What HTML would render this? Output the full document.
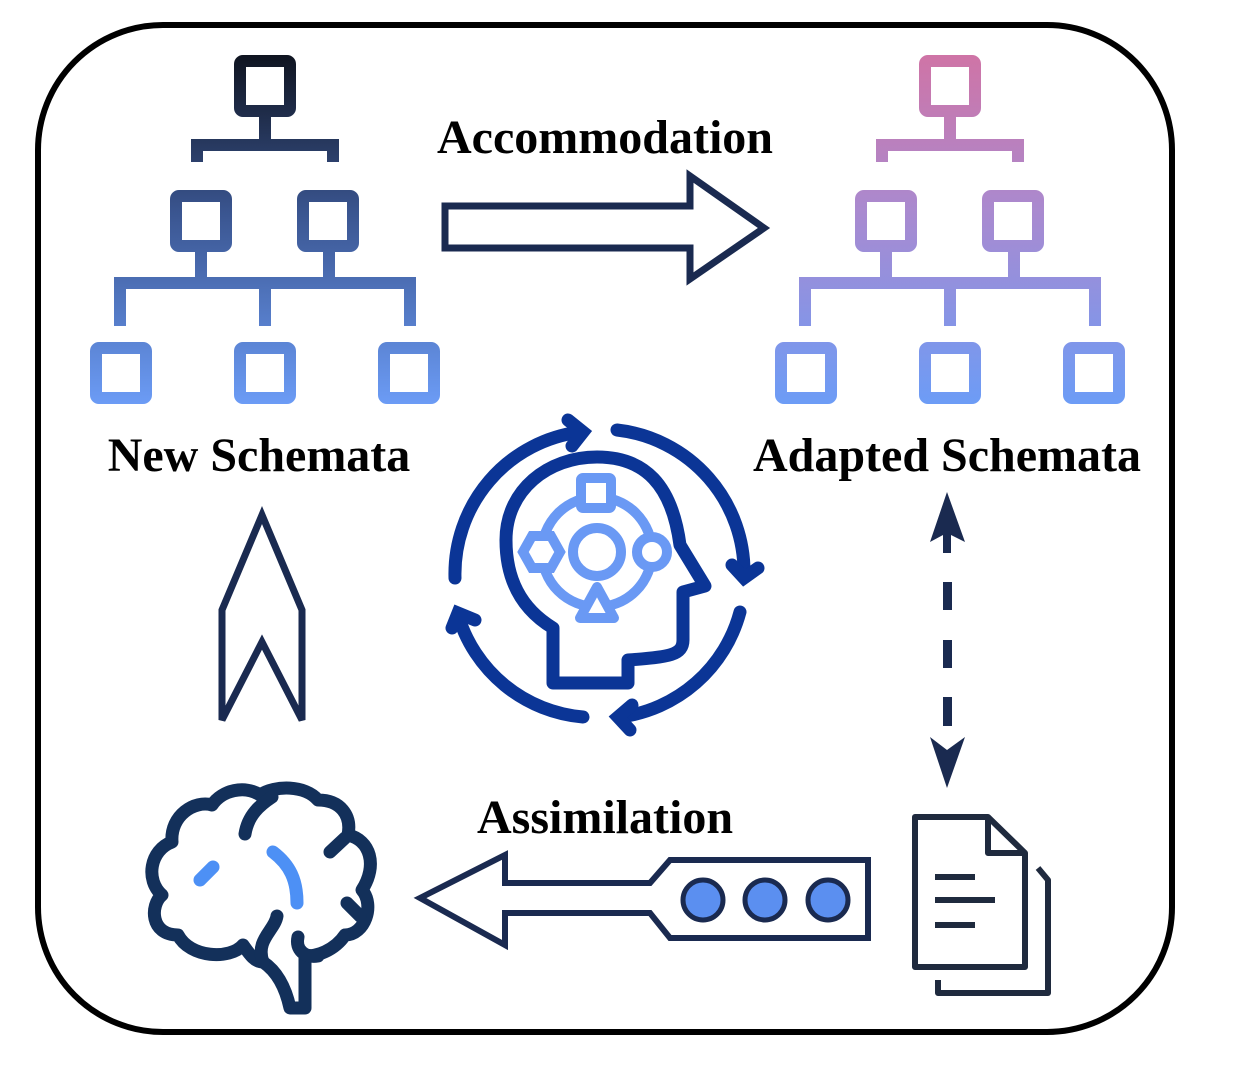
<!DOCTYPE html>
<html><head><meta charset="utf-8"><style>
html,body{margin:0;padding:0;background:#fff}
svg{display:block}
text{font-family:"Liberation Serif",serif;font-weight:bold;fill:#000}
</style></head><body>
<svg width="1240" height="1080" viewBox="0 0 1240 1080">
<defs>
<linearGradient id="gl" x1="0" y1="55" x2="0" y2="405" gradientUnits="userSpaceOnUse">
<stop offset="0" stop-color="#0f1420"/><stop offset="0.45" stop-color="#3a5590"/><stop offset="1" stop-color="#6c9cf6"/></linearGradient>
<linearGradient id="gr" x1="0" y1="55" x2="0" y2="405" gradientUnits="userSpaceOnUse">
<stop offset="0" stop-color="#cf74a6"/><stop offset="0.45" stop-color="#a98ad0"/><stop offset="1" stop-color="#6c9cf6"/></linearGradient>
</defs>
<rect x="38" y="25" width="1134" height="1007" rx="125" fill="none" stroke="#000" stroke-width="6"/>

<g fill="none" stroke="url(#gl)" stroke-width="12">
<rect x="240" y="61" width="50" height="50" rx="3"/>
<path d="M265 117V145M197 162V145H333V162"/>
<rect x="176" y="196" width="50" height="50" rx="3"/>
<rect x="303" y="196" width="50" height="50" rx="3"/>
<path d="M201 252V283M329 252V283M120 326V283H410V326M265 283V326"/>
<rect x="96" y="348" width="50" height="50" rx="3"/>
<rect x="240" y="348" width="50" height="50" rx="3"/>
<rect x="384" y="348" width="50" height="50" rx="3"/>
</g>
<g fill="none" stroke="url(#gr)" stroke-width="12" transform="translate(685,0)">
<rect x="240" y="61" width="50" height="50" rx="3"/>
<path d="M265 117V145M197 162V145H333V162"/>
<rect x="176" y="196" width="50" height="50" rx="3"/>
<rect x="303" y="196" width="50" height="50" rx="3"/>
<path d="M201 252V283M329 252V283M120 326V283H410V326M265 283V326"/>
<rect x="96" y="348" width="50" height="50" rx="3"/>
<rect x="240" y="348" width="50" height="50" rx="3"/>
<rect x="384" y="348" width="50" height="50" rx="3"/>
</g>

<text x="605" y="153" font-size="48" text-anchor="middle">Accommodation</text>
<text x="259" y="471" font-size="48" text-anchor="middle">New Schemata</text>
<text x="947" y="471" font-size="48" text-anchor="middle">Adapted Schemata</text>
<text x="605" y="833" font-size="48" text-anchor="middle">Assimilation</text>

<polygon points="445,206 690,206 690,176 764,228 690,279 690,248 445,248" fill="none" stroke="#1a2a50" stroke-width="7"/>
<polygon points="262,515 302,610 302,720 262,642 222,720 222,610" fill="none" stroke="#1a2a50" stroke-width="7"/>

<g fill="#1a2a50">
<path d="M947 492L965 542L951 535V553H943V535L930 542Z"/>
<rect x="943" y="582" width="9" height="28"/>
<rect x="943" y="640" width="9" height="28"/>
<rect x="943" y="697" width="9" height="29"/>
<path d="M930 737L947 750L965 737L947 788Z"/>
</g>

<g fill="none" stroke="#1a2a50" stroke-width="6">
<path d="M420,898 505,855 505,883 650,883 670,860 868,860 868,938 670,938 650,913 505,913 505,945 Z"/>
<circle cx="703" cy="900" r="20" fill="#5b8ff0" stroke-width="5"/>
<circle cx="765" cy="900" r="20" fill="#5b8ff0" stroke-width="5"/>
<circle cx="828" cy="900" r="20" fill="#5b8ff0" stroke-width="5"/>
</g>

<g fill="none" stroke="#1f2a3e" stroke-width="6" stroke-linejoin="round">
<path d="M915 817H988L1025 853V967H915Z"/>
<path d="M988 817V853H1025"/>
<path d="M1038 868L1048 880V993H938V980"/>
<path d="M935 877H975M935 900H995M935 925H975"/>
</g>

<g fill="none" stroke-linecap="round" stroke-width="13">
<g stroke="#0b3596">
<path d="M455 578A143 143 0 0 1 580 432"/>
<path d="M568 420L583 432L572 446"/>
<path d="M617 430A143 143 0 0 1 744 575"/>
<path d="M732 565L744 578L758 568"/>
<path d="M740 612A143 143 0 0 1 620 717"/>
<path d="M632 705L618 717L630 730"/>
<path d="M583 717A143 143 0 0 1 458 615"/>
<path d="M452 628L458 613L475 620"/>
<path d="M553 683V628C520 608 506 578 506 540C506 490 548 457 597 457C645 457 672 485 680 545L705 586L683 592V640C683 655 670 657 628 660V683Z" stroke-linejoin="round"/>
</g>
<g stroke="#6a99f4" stroke-width="10">
<circle cx="597" cy="552" r="55"/>
<circle cx="597" cy="552" r="24"/>
<rect x="581" y="478" width="30" height="30" rx="2" fill="#fff"/>
<circle cx="652" cy="552" r="15" fill="#fff"/>
<path d="M523 552L532 536H551L560 552L551 568H532Z" fill="#fff"/>
<path d="M597 587L614 618H580Z" fill="#fff" stroke-linejoin="round"/>
</g>
</g>

<g fill="none" stroke="#13305a" stroke-width="13" stroke-linecap="round" stroke-linejoin="round">
<path d="M243 945C230 960 190 958 178 935C150 935 150 905 162 895C145 880 150 850 172 842C170 815 195 800 212 805C222 790 245 785 260 795C275 785 305 785 318 800C340 800 352 815 348 835C370 840 378 865 362 890C375 905 365 935 345 935C335 950 315 958 305 955V1008H290C285 985 275 970 263 962C255 962 250 955 243 945Z"/>
<path d="M263 962C255 940 275 930 277 916"/>
<path d="M245 834C248 815 260 805 272 797"/>
<path d="M330 852L345 838"/>
<path d="M347 903L360 916"/>
<path d="M298 937C295 950 305 958 318 956"/>
</g>
<g stroke="#4d90f5" stroke-width="13" stroke-linecap="round" fill="none">
<path d="M200 880L213 867"/>
<path d="M273 852C290 865 297 880 297 903"/>
</g>
</svg>
</body></html>
